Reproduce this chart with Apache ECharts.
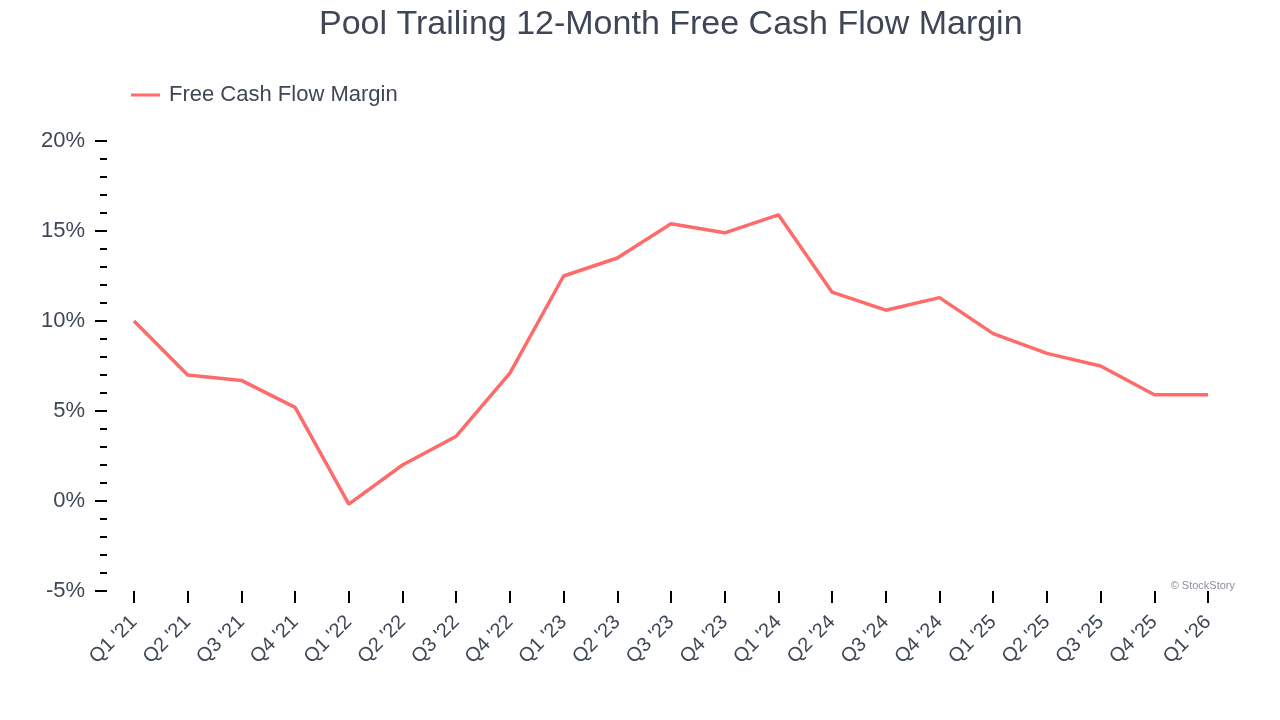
<!DOCTYPE html>
<html>
<head>
<meta charset="utf-8">
<script src="https://cdn.jsdelivr.net/npm/echarts@6/dist/echarts.min.js"></script>
<style>
  html, body { margin: 0; padding: 0; background: #fff; }
  #chart { width: 1280px; height: 720px; }
</style>
</head>
<body>
<div id="chart"></div>
<script>
var quarters = ["Q1 '21", "Q2 '21", "Q3 '21", "Q4 '21", "Q1 '22", "Q2 '22", "Q3 '22", "Q4 '22",
  "Q1 '23", "Q2 '23", "Q3 '23", "Q4 '23", "Q1 '24", "Q2 '24", "Q3 '24", "Q4 '24",
  "Q1 '25", "Q2 '25", "Q3 '25", "Q4 '25", "Q1 '26"];
var fcfMargin = [10.0, 7.0, 6.7, 5.2, -0.17, 2.0, 3.6, 7.1, 12.5, 13.5, 15.4, 14.9, 15.9,
  11.6, 10.6, 11.3, 9.3, 8.2, 7.5, 5.9, 5.9];
var seriesName = "Free Cash Flow Margin";
var textColor = "#3f4757";
var fontName = "Liberation Sans";

var myChart = echarts.init(document.getElementById("chart"));
var options = {
  animation: false,
  title: {
    text: "Pool Trailing 12-Month Free Cash Flow Margin",
    left: 314,
    top: 3,
    textStyle: { fontFamily: fontName, fontSize: 34, fontWeight: "normal", color: textColor },
  },
  legend: {
    left: 126,
    top: 79,
    itemWidth: 29,
    itemHeight: 3,
    icon: "rect",
    textStyle: { fontFamily: fontName, fontSize: 22, color: textColor, padding: [0, 0, 0, 4] },
    data: [seriesName],
  },
  graphic: [
    {
      type: "text",
      right: 45,
      top: 580,
      style: { text: "© StockStory", fontFamily: fontName, fontSize: 11, fill: "#8a8f98" },
    },
  ],
  grid: { left: 134, right: 72, top: 141, bottom: 129 },
  xAxis: {
    type: "category",
    data: quarters,
    boundaryGap: false,
    axisLine: { show: false, onZero: false },
    axisTick: { show: true, length: 12, alignWithLabel: true, lineStyle: { color: "#000", width: 2 } },
    axisLabel: {
      rotate: 45,
      margin: 28,
      interval: 0,
      fontFamily: fontName,
      fontSize: 20,
      color: textColor,
    },
  },
  yAxis: {
    type: "value",
    min: -5,
    max: 20,
    interval: 5,
    offset: 27,
    splitLine: { show: false },
    axisLine: { show: false },
    axisTick: { show: true, length: 12, lineStyle: { color: "#000", width: 2 } },
    minorTick: { show: true, splitNumber: 5, length: 7, lineStyle: { color: "#000", width: 2 } },
    axisLabel: {
      margin: 22,
      fontFamily: fontName,
      fontSize: 22,
      color: textColor,
      formatter: "{value}%",
    },
  },
  series: [
    {
      name: seriesName,
      type: "line",
      data: fcfMargin,
      symbol: "none",
      lineStyle: { color: "#ff6b6b", width: 3.5 },
      itemStyle: { color: "#ff6b6b" },
    },
  ],
};
myChart.setOption(options);
</script>
</body>
</html>
